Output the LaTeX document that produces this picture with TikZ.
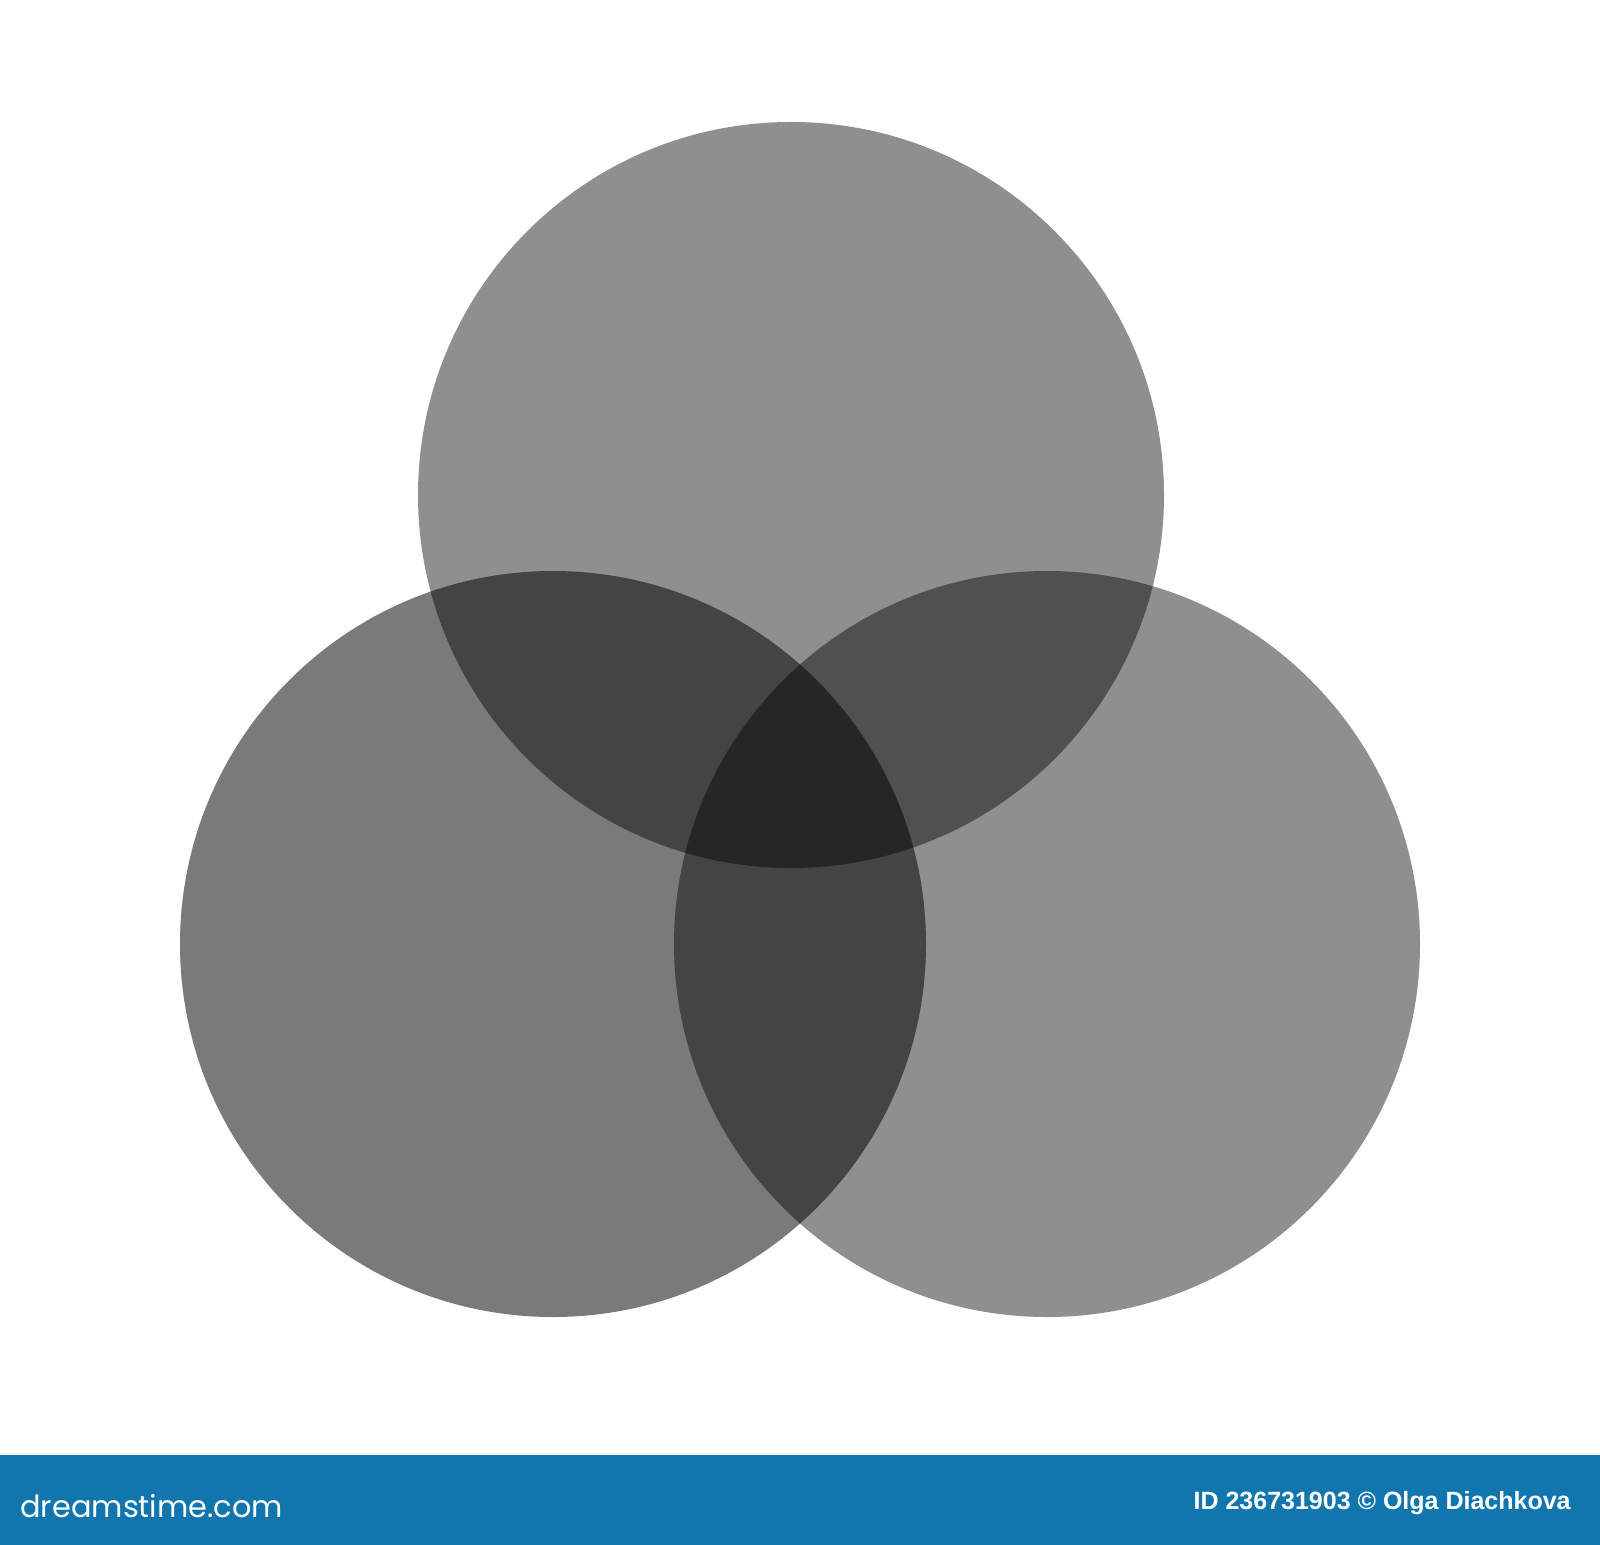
\documentclass[tikz,border=0pt]{standalone}
\usepackage{fontspec}
\setmainfont{Liberation Sans}
\newfontfamily\logofont{Poppins}
\definecolor{banner}{HTML}{1176AE}
\tikzset{
  disc/.style={fill=black, draw=none},
  bannertext/.style={text=white, inner sep=0pt}
}
\begin{document}
\begin{tikzpicture}[x=0.5pt,y=-0.5pt]
\useasboundingbox (0,0) rectangle (1600,1545);
\fill[white] (0,0) rectangle (1600,1545);
\path[disc, fill opacity=0.44] (791,495) circle[radius=373];
\path[disc, fill opacity=0.52] (553,944) circle[radius=373];
\path[disc, fill opacity=0.44] (1047,944) circle[radius=373];
\node[fill=banner, minimum width=800pt, minimum height=45pt, inner sep=0pt, anchor=north west] (ban) at (0,1455) {};
\node[bannertext, anchor=base west] (logo) at (20,1517) {\logofont\fontsize{15.2}{18}\selectfont dreamstime.com};
\node[bannertext, anchor=base east] (id) at (1571,1509) {\bfseries\fontsize{12.5}{15}\selectfont ID 236731903 \textcopyright{} Olga Diachkova};
\end{tikzpicture}
\end{document}
